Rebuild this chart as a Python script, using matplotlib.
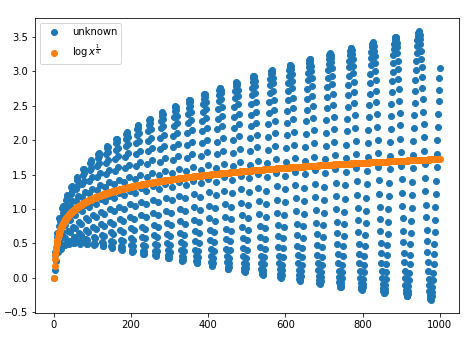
import numpy as np
import matplotlib
matplotlib.use("Agg")
import matplotlib.pyplot as plt

# sample positions: integer x from 1 to 1000 (orange dots sit at x = 1, 2, 3, 4 ...)
x = np.arange(1, 1001)

# model of the blue "unknown" cloud:
# centre sits a little under the orange curve, half-height ~ 0.063*sqrt(x),
# peaks fall at sqrt(x) ~ k + 0.73 (one swing per unit of sqrt(x))
centre_scale = 0.24
amp_scale = 0.063
swing_freq = 2 * np.pi
phase = -np.pi

y_log = np.log(x) / 4
y_unknown = centre_scale * np.log(x) + amp_scale * np.sqrt(x) * np.sin(swing_freq * np.sqrt(x) + phase)

labels = ["unknown", r"$\log x^{\frac{1}{4}}$"]

W, H, DPI = 474, 346, 72
fig = plt.figure(figsize=(W / DPI, H / DPI), dpi=DPI)
ax = fig.add_axes([35 / W, (H - 313) / H, 424 / W, 295 / H])

ax.scatter(x, y_unknown, label=labels[0])
ax.scatter(x, y_log, label=labels[1])
ax.legend(loc="upper left")

fig.savefig("out.png", dpi=DPI)
